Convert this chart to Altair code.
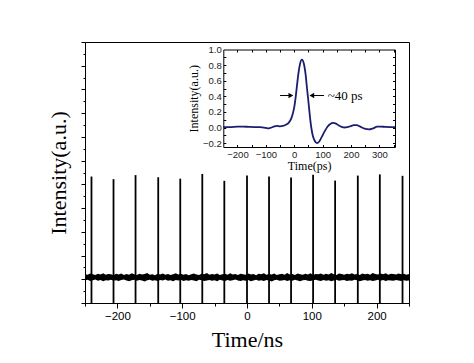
import altair as alt
import pandas as pd

# ---- main trace (ns) ----
pulse_t = [-240, -206, -172, -137, -103, -69, -35, 0, 34, 68, 102, 136, 171, 205, 240]
pulse_h = [5.33, 5.22, 5.39, 5.30, 5.24, 5.44, 5.15, 5.37, 5.33, 5.29, 5.40, 5.16, 5.37, 5.42, 5.36]

band_hi = [1.22, 1.19, 1.24, 1.21, 1.18, 1.23, 1.20, 1.25, 1.19, 1.22,
           1.21, 1.17, 1.23, 1.20, 1.24, 1.18, 1.22, 1.19, 1.25, 1.21,
           1.18, 1.23, 1.20, 1.22, 1.26, 1.19, 1.21, 1.17, 1.23, 1.20,
           1.24, 1.19, 1.22, 1.18, 1.21, 1.25, 1.20, 1.23, 1.19, 1.22,
           1.17, 1.21, 1.24, 1.20, 1.18, 1.23, 1.21, 1.26, 1.19, 1.22,
           1.20, 1.24, 1.18, 1.21, 1.23, 1.19, 1.25, 1.20, 1.22, 1.18,
           1.23, 1.21, 1.19, 1.24, 1.20, 1.22, 1.17, 1.23, 1.21, 1.25,
           1.19, 1.22, 1.20, 1.24, 1.18, 1.21, 1.23, 1.19, 1.26, 1.20,
           1.22, 1.18, 1.24, 1.21, 1.19, 1.23, 1.20, 1.25, 1.18, 1.22,
           1.21, 1.24, 1.19, 1.23, 1.20, 1.26, 1.21, 1.18, 1.24, 1.22,
           1.19, 1.23, 1.21, 1.25, 1.20, 1.22, 1.18, 1.24, 1.21, 1.23,
           1.19, 1.26, 1.22, 1.20, 1.24, 1.21, 1.25, 1.19, 1.23, 1.22,
           1.20, 1.24, 1.21, 1.23, 1.19, 1.22]
band_lo = [0.95, 0.98, 0.93, 0.96, 0.99, 0.94, 0.97, 0.92, 0.96, 0.95,
           0.98, 0.94, 0.96, 0.93, 0.97, 0.99, 0.95, 0.92, 0.96, 0.98,
           0.94, 0.97, 0.95, 0.91, 0.96, 0.98, 0.94, 0.96, 0.93, 0.97,
           0.95, 0.99, 0.94, 0.96, 0.92, 0.97, 0.95, 0.98, 0.93, 0.96,
           0.94, 0.97, 0.95, 0.92, 0.98, 0.96, 0.93, 0.95, 0.97, 0.94,
           0.96, 0.92, 0.98, 0.95, 0.93, 0.97, 0.94, 0.96, 0.99, 0.95,
           0.93, 0.96, 0.94, 0.97, 0.92, 0.95, 0.98, 0.94, 0.96, 0.93,
           0.97, 0.95, 0.91, 0.96, 0.98, 0.94, 0.95, 0.97, 0.93, 0.96,
           0.94, 0.98, 0.95, 0.92, 0.96, 0.97, 0.94, 0.93, 0.96, 0.98,
           0.95, 0.93, 0.97, 0.94, 0.96, 0.92, 0.95, 0.98, 0.94, 0.96,
           0.97, 0.93, 0.95, 0.94, 0.98, 0.96, 0.92, 0.95, 0.97, 0.94,
           0.96, 0.93, 0.95, 0.98, 0.94, 0.97, 0.93, 0.96, 0.95, 0.94,
           0.97, 0.95, 0.93, 0.96, 0.94, 0.95]
band_t = [-250 + 4 * i for i in range(len(band_hi))]

major_x = [-200, -100, 0, 100, 200]
minor_x = [-250, -150, -50, 50, 150, 250]
major_y = list(range(0, 12))
minor_y = [i + 0.5 for i in range(11)]

# ---- inset pulse (ps) ----
inset_t = [-250, -230, -200, -180, -160, -140, -120, -100, -90, -80, -70, -60, -50, -40,
           -30, -20, -10, -5, 0, 5, 10, 15, 20, 27, 33, 40, 45, 50, 55, 60, 65, 72, 80,
           88, 97, 107, 117, 127, 137, 147, 157, 167, 177, 187, 197, 210, 220, 232, 248,
           263, 278, 292, 305, 320, 335, 355]
inset_i = [0.005, 0.005, 0.01, 0.012, 0.008, 0.005, 0.005, -0.005, -0.01, 0.0, 0.015, 0.02,
           0.015, 0.02, 0.035, 0.06, 0.12, 0.18, 0.26, 0.39, 0.55, 0.70, 0.81, 0.87, 0.83,
           0.68, 0.50, 0.33, 0.15, 0.0, -0.10, -0.17, -0.20, -0.18, -0.12, -0.05, 0.01,
           0.045, 0.06, 0.05, 0.025, 0.008, 0.0, 0.005, 0.015, 0.03, 0.03, 0.012, -0.015,
           -0.025, -0.01, 0.01, 0.012, 0.008, 0.005, 0.005]
inset_xlabels = [-200, -100, 0, 100, 200, 300]
inset_ylabels = [-0.2, 0.0, 0.2, 0.4, 0.6, 0.8, 1.0]
inset_xticks = [-200, -150, -100, -50, 0, 50, 100, 150, 200, 250, 300, 350]
inset_yticks = [-0.2, -0.1, 0.0, 0.1, 0.2, 0.3, 0.4, 0.5, 0.6, 0.7, 0.8, 0.9]

arrow_x1 = [-50, 105]
arrow_x2 = [-12, 62]
arrow_y = [0.41, 0.41]
arrow_shape = ["triangle-right", "triangle-left"]

SERIF = "Liberation Serif"
SANS = "Liberation Sans"

W, H = 324, 261
X_MAIN = alt.Scale(domain=[-250, 250], nice=False, zero=False)
Y_MAIN = alt.Scale(domain=[0, 11], nice=False, zero=False)

band_df = pd.DataFrame({"t": band_t, "lo": band_lo, "hi": band_hi})
pulse_df = pd.DataFrame({"t": pulse_t, "h": pulse_h, "b": [0] * len(pulse_t)})

x_axis = alt.Axis(values=major_x, orient="bottom", title="Time/ns", titleFont=SERIF,
                  titleFontSize=22, titleFontWeight="normal", titleColor="black",
                  labelFont=SANS, labelFontSize=11.5, labelColor="black", tickSize=5,
                  tickColor="black", domainColor="black", grid=False, labelPadding=2,
                  titlePadding=8)
y_axis = alt.Axis(values=major_y, orient="left", labels=False, title="Intensity(a.u.)",
                  titleFont=SERIF, titleFontSize=22, titleFontWeight="normal",
                  titleColor="black", tickSize=4, tickColor="black", domainColor="black",
                  grid=False, titlePadding=10)
x_minor = alt.Axis(values=minor_x, orient="bottom", labels=False, title=None, tickSize=3,
                   tickColor="black", domain=False, grid=False)
y_minor = alt.Axis(values=minor_y, orient="left", labels=False, title=None, tickSize=2,
                   tickColor="black", domain=False, grid=False)

band = alt.Chart(band_df).mark_area(color="black", opacity=1, interpolate="linear").encode(
    x=alt.X("t:Q", scale=X_MAIN, axis=x_axis),
    y=alt.Y("lo:Q", scale=Y_MAIN, axis=y_axis),
    y2="hi:Q",
)
minor = alt.Chart(band_df).mark_line(opacity=0).encode(
    x=alt.X("t:Q", scale=X_MAIN, axis=x_minor),
    y=alt.Y("lo:Q", scale=Y_MAIN, axis=y_minor),
)
pulses = alt.Chart(pulse_df).mark_rule(color="black", strokeWidth=1.8).encode(
    x=alt.X("t:Q", scale=X_MAIN, axis=None),
    y=alt.Y("b:Q", scale=Y_MAIN, axis=None),
    y2="h:Q",
)

# ---- inset (pixel box inside the main plot area) ----
IN_L, IN_R, IN_T, IN_B = 138.3, 310.0, 7.5, 105.0
X_IN = alt.Scale(domain=[-250, 355], range=[IN_L, IN_R], nice=False, zero=False)
Y_IN = alt.Scale(domain=[-0.25, 1.0], range=[IN_B, IN_T], nice=False, zero=False)

lab_common = dict(titleFont=SERIF, titleFontSize=12, titleFontWeight="normal",
                  titleColor="black", labelFont=SANS, labelFontSize=9.5, labelColor="#222",
                  tickSize=0, domainColor="black", grid=False, labelPadding=2, titlePadding=2)
xin_axis = alt.Axis(values=inset_xlabels, orient="bottom", offset=IN_B - H,
                    title="Time(ps)", **lab_common)
yin_axis = alt.Axis(values=inset_ylabels, format=".1f", orient="left", offset=-IN_L,
                    title="Intensity(a.u.)", **lab_common)

tick_common = dict(labels=False, title=None, tickSize=2.5, tickColor="black",
                   domainColor="black", grid=False)
# inward ticks: bottom edge (top-oriented), left edge (right-oriented)
x_in_b = alt.Axis(values=inset_xticks, orient="top", offset=-IN_B, domain=False, **tick_common)
y_in_l = alt.Axis(values=inset_yticks, orient="right", offset=IN_L - W, domain=False,
                  **tick_common)
# top and right edges of the frame with inward ticks
x_in_t = alt.Axis(values=inset_xticks, orient="bottom", offset=IN_T - H, **tick_common)
y_in_r = alt.Axis(values=inset_yticks, orient="left", offset=-IN_R, **tick_common)

curve_df = pd.DataFrame({"t": inset_t, "i": inset_i})
curve = alt.Chart(curve_df).mark_line(color="#1c1c70", strokeWidth=1.8,
                                      interpolate="monotone").encode(
    x=alt.X("t:Q", scale=X_IN, axis=xin_axis),
    y=alt.Y("i:Q", scale=Y_IN, axis=yin_axis),
)
ticks_bl = alt.Chart(curve_df).mark_line(opacity=0).encode(
    x=alt.X("t:Q", scale=X_IN, axis=x_in_b),
    y=alt.Y("i:Q", scale=Y_IN, axis=y_in_l),
)
ticks_tr = alt.Chart(curve_df).mark_line(opacity=0).encode(
    x=alt.X("t:Q", scale=X_IN, axis=x_in_t),
    y=alt.Y("i:Q", scale=Y_IN, axis=y_in_r),
)
arrow_df = pd.DataFrame({"x1": arrow_x1, "x2": arrow_x2, "y": arrow_y, "s": arrow_shape})
shafts = alt.Chart(arrow_df).mark_rule(color="black", strokeWidth=1).encode(
    x=alt.X("x1:Q", scale=X_IN, axis=None),
    x2="x2:Q",
    y=alt.Y("y:Q", scale=Y_IN, axis=None),
)
heads = alt.Chart(arrow_df).mark_point(filled=True, color="black", size=30, opacity=1).encode(
    x=alt.X("x2:Q", scale=X_IN, axis=None),
    y=alt.Y("y:Q", scale=Y_IN, axis=None),
    shape=alt.Shape("s:N", scale=None, legend=None),
)
label_df = pd.DataFrame({"x": [118], "y": [0.41], "txt": ["~40 ps"]})
label = alt.Chart(label_df).mark_text(align="left", baseline="middle", font=SERIF,
                                      fontSize=13, color="black").encode(
    x=alt.X("x:Q", scale=X_IN, axis=None),
    y=alt.Y("y:Q", scale=Y_IN, axis=None),
    text="txt:N",
)

chart = alt.layer(minor, band, pulses, ticks_bl, ticks_tr, curve, shafts, heads,
                  label).resolve_scale(
    x="independent", y="independent"
).properties(
    width=W, height=H,
    padding={"left": 77, "top": 34, "right": 57, "bottom": 52},
    autosize=alt.AutoSizeParams(type="none"),
    background="white",
).configure_view(stroke="black", strokeWidth=1)

chart.save("out.html", embed_options={"renderer": "svg", "actions": False})
